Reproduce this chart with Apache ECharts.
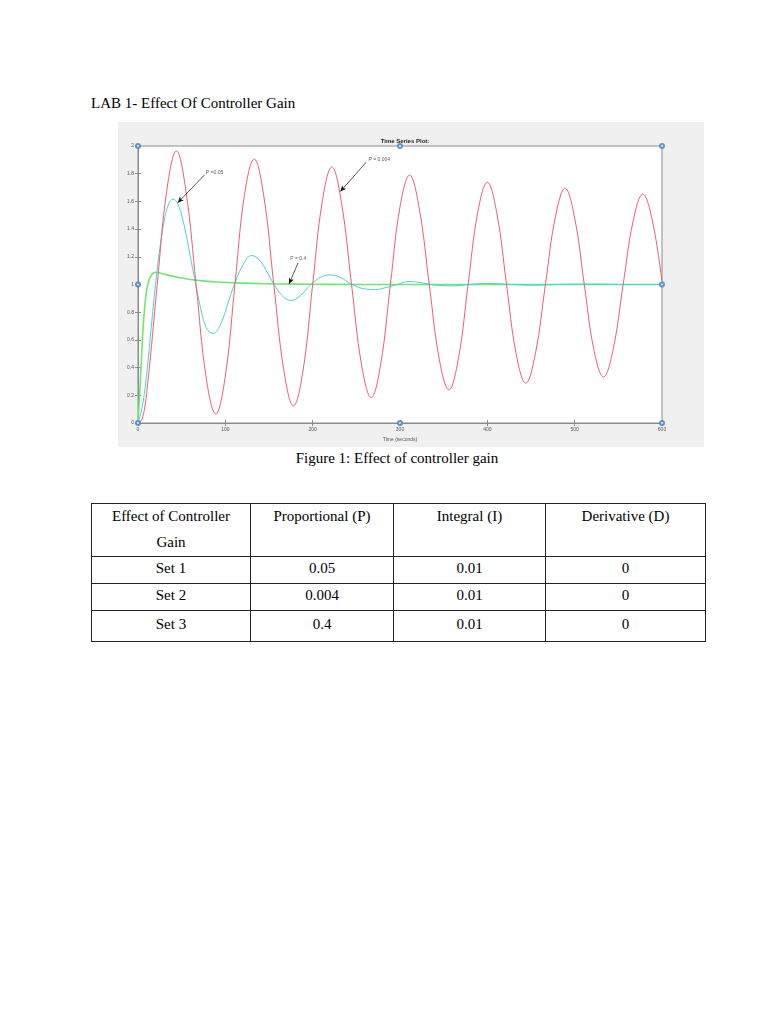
<!DOCTYPE html>
<html>
<head>
<meta charset="utf-8">
<script src="https://cdn.jsdelivr.net/npm/echarts@6/dist/echarts.min.js"></script>
<style>
  html, body { margin:0; padding:0; background:#fff; width:768px; height:1024px; overflow:hidden; }
  body { position:relative; font-family:"Liberation Serif","DejaVu Serif",serif; color:#000; }
  #heading { position:absolute; left:91px; top:95px; font-size:15px; }
  #chart { position:absolute; left:118px; top:122px; width:586px; height:325px; background:#f0f0f0; }
  #caption { position:absolute; left:0; width:794px; top:450px; text-align:center; font-size:15px; }
  table { position:absolute; left:91px; top:503px; border-collapse:collapse; font-size:15px; }
  td { border:1px solid #222; text-align:center; padding:0; }
  td.h { vertical-align:top; padding-top:0; line-height:26px; height:51px; }
  td.h div { position:relative; top:-1px; }
  td.r { height:26px; vertical-align:middle; }
  td.r div { position:relative; top:-2px; }
</style>
</head>
<body>
<div id="heading">LAB 1- Effect Of Controller Gain</div>
<div id="chart"></div>
<div id="caption">Figure 1: Effect of controller gain</div>
<table>
  <tr>
    <td class="h" style="width:158px"><div>Effect of Controller<br>Gain</div></td>
    <td class="h" style="width:142px"><div>Proportional (P)</div></td>
    <td class="h" style="width:151px"><div>Integral (I)</div></td>
    <td class="h" style="width:159px"><div>Derivative (D)</div></td>
  </tr>
  <tr><td class="r"><div>Set 1</div></td><td class="r"><div>0.05</div></td><td class="r"><div>0.01</div></td><td class="r"><div>0</div></td></tr>
  <tr><td class="r"><div>Set 2</div></td><td class="r"><div>0.004</div></td><td class="r"><div>0.01</div></td><td class="r"><div>0</div></td></tr>
  <tr><td class="r" style="height:30px"><div>Set 3</div></td><td class="r" style="height:30px"><div>0.4</div></td><td class="r" style="height:30px"><div>0.01</div></td><td class="r" style="height:30px"><div>0</div></td></tr>
</table>
<script>
// ---- data ----
const xTicks = [0, 100, 200, 300, 400, 500, 600];
const yTicks = [0, 0.2, 0.4, 0.6, 0.8, 1, 1.2, 1.4, 1.6, 1.8, 2];

// P = 0.004 (red)
const redT = [0, 5, 11, 22, 33, 44, 55, 66.5, 78, 89, 100, 111, 122, 133, 144, 155.5, 167, 178, 189, 200,
  211, 222, 233, 244.5, 256, 267, 278, 289, 300, 311, 322, 333.5, 345, 356, 367, 378, 389, 400, 411, 422,
  433, 444, 455, 466.5, 478, 489, 500, 511, 522, 533, 544, 555.5, 567, 578, 589, 600];
const redV = [0, 0.03, 0.28, 1.0, 1.68, 1.964, 1.67, 1.0, 0.33, 0.065, 0.34, 1.0, 1.65, 1.906, 1.64, 1.0, 0.38, 0.124, 0.38, 1.0,
  1.6, 1.849, 1.59, 1.0, 0.42, 0.184, 0.43, 1.0, 1.56, 1.79, 1.55, 1.0, 0.46, 0.24, 0.47, 1.0, 1.52, 1.738, 1.51, 1.0,
  0.5, 0.288, 0.5, 1.0, 1.49, 1.695, 1.48, 1.0, 0.53, 0.333, 0.53, 1.0, 1.46, 1.652, 1.46, 1.02];

// P = 0.05 (cyan)
const cyanT = [0, 5, 10, 15, 20, 25, 30, 35, 40, 45, 52, 63, 70, 78, 86, 95, 108, 120, 130, 140, 153, 165, 175, 186,
  198, 210, 220, 232, 245, 260, 272, 284, 297, 310, 325, 340, 360, 380, 400, 420, 450, 480, 520, 560, 600];
const cyanV = [0, 0.12, 0.36, 0.68, 1.0, 1.26, 1.46, 1.58, 1.616, 1.59, 1.45, 1.1, 0.88, 0.69, 0.647, 0.72, 0.96, 1.14, 1.209, 1.17, 1.03, 0.92, 0.885, 0.92,
  1.0, 1.055, 1.069, 1.05, 1.0, 0.968, 0.964, 0.978, 1.0, 1.022, 1.012, 0.996, 0.99, 1.0, 1.008, 1.003, 0.995, 1.0, 1.003, 1.0, 1.0];

// P = 0.4 (green)
const greenT = [0, 2, 4, 6, 8, 10, 13, 17, 21, 27, 35, 45, 60, 75, 90, 110, 130, 160, 200, 250, 300, 400, 500, 600];
const greenV = [0, 0.22, 0.47, 0.7, 0.86, 0.96, 1.04, 1.08, 1.088, 1.08, 1.066, 1.052, 1.036, 1.026, 1.018, 1.012, 1.008, 1.004, 1.002, 1.0, 1.0, 1.0, 1.0, 1.0];

// annotations: [text x, text y, label, arrow start x, start y, arrow end x, end y]
const annotations = [
  [77.7, 1.81, 'P =0.05', 76.1, 1.791, 45.5, 1.59],
  [263.9, 1.905, 'P = 0.004', 261.2, 1.882, 231.7, 1.671],
  [174.4, 1.187, 'P = 0.4', 183.2, 1.155, 172.9, 1.004]
];
// figure selection handles
const handles = [[0, 2], [300, 2], [600, 2], [0, 1], [600, 1], [0, 0], [300, 0], [600, 0]];

const zip = (t, v) => t.map((x, i) => [x, v[i]]);

const chart = echarts.init(document.getElementById('chart'), null, { renderer: 'canvas' });
const axisGrey = '#8a8a8a';
const labelStyle = { fontSize: 5, color: '#555', fontFamily: 'Liberation Sans' };

chart.setOption({
  animation: false,
  backgroundColor: '#f0f0f0',
  textStyle: { fontFamily: 'Liberation Sans' },
  title: {
    text: 'Time Series Plot:', left: 282, top: 11, textAlign: 'center',
    textStyle: { fontSize: 6, fontWeight: 'bold', color: '#222', fontFamily: 'Liberation Sans' }
  },
  grid: { left: 20, top: 24, right: 42, bottom: 24, containLabel: false, outerBoundsMode: 'none',
    show: true, backgroundColor: '#fff', borderColor: axisGrey, borderWidth: 1 },
  xAxis: [{
    type: 'value', min: xTicks[0], max: xTicks[xTicks.length - 1], interval: 100,
    name: 'Time (seconds)', nameLocation: 'middle', nameGap: 11, nameTextStyle: labelStyle,
    axisLine: { lineStyle: { color: axisGrey } },
    axisTick: { inside: true, length: 3, lineStyle: { color: axisGrey } },
    axisLabel: Object.assign({ margin: 4 }, labelStyle),
    splitLine: { show: false }
  }, {
    type: 'value', position: 'top', min: 0, max: 600, interval: 100,
    axisLine: { lineStyle: { color: axisGrey } },
    axisTick: { inside: true, length: 3, lineStyle: { color: axisGrey } },
    axisLabel: { show: false }, splitLine: { show: false }
  }],
  yAxis: [{
    type: 'value', min: yTicks[0], max: yTicks[yTicks.length - 1], interval: 0.2,
    name: 'data', nameLocation: 'middle', nameGap: 13, nameRotate: 90, nameTextStyle: labelStyle,
    axisLine: { show: true, lineStyle: { color: axisGrey } },
    axisTick: { show: true, inside: true, length: 3, lineStyle: { color: axisGrey } },
    axisLabel: Object.assign({ margin: 4 }, labelStyle),
    splitLine: { show: false }
  }, {
    type: 'value', position: 'right', min: 0, max: 2, interval: 0.2,
    axisLine: { show: true, lineStyle: { color: axisGrey } },
    axisTick: { show: true, inside: true, length: 3, lineStyle: { color: axisGrey } },
    axisLabel: { show: false }, splitLine: { show: false }
  }],
  series: [
    { name: 'P = 0.4', type: 'line', data: zip(greenT, greenV), smooth: 0.4, showSymbol: false,
      lineStyle: { color: '#72e472', width: 1.6 }, z: 2 },
    { name: 'P = 0.05', type: 'line', data: zip(cyanT, cyanV), smooth: 0.4, showSymbol: false,
      lineStyle: { color: '#4ccfd6', width: 1 }, z: 3 },
    { name: 'P = 0.004', type: 'line', data: zip(redT, redV), smooth: 0.4, showSymbol: false,
      lineStyle: { color: '#ef5d6c', width: 1 }, z: 4,
      markLine: {
        silent: true, symbol: ['none', 'arrow'], symbolSize: [4, 6],
        label: { show: false },
        lineStyle: { color: '#111', width: 0.7, type: 'solid' },
        data: annotations.map(a => [{ coord: [a[3], a[4]] }, { coord: [a[5], a[6]] }])
      }
    },
    { name: 'labels', type: 'scatter', symbolSize: 0, z: 6,
      data: annotations.map(a => [a[0], a[1], a[2]]),
      label: { show: true, position: 'right', distance: 0, formatter: p => p.value[2],
        fontSize: 5, color: '#333', fontFamily: 'Liberation Sans' } },
    { name: 'handles', type: 'scatter', data: handles, symbol: 'emptyCircle', symbolSize: 4, z: 7,
      clip: false,
      itemStyle: { color: '#3d7cc9', borderColor: '#3d7cc9', borderWidth: 1 } }
  ]
});
</script>
</body>
</html>
